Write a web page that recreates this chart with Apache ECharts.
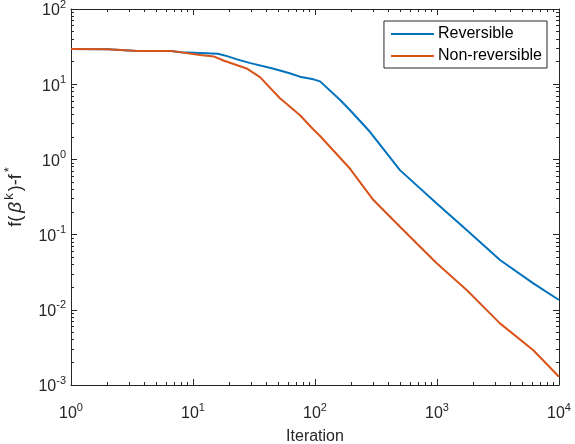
<!DOCTYPE html>
<html>
<head>
<meta charset="utf-8">
<script src="https://cdn.jsdelivr.net/npm/echarts@6/dist/echarts.min.js"></script>
<style>html,body{margin:0;padding:0;background:#fff}#c{width:575px;height:444px}</style>
</head>
<body>
<div id="c"></div>
<script>
var seriesNames = ['Reversible', 'Non-reversible'];
var reversibleX = [1, 2, 3.5, 6.6, 8, 11.4, 16, 19, 23, 29, 45, 62, 75, 97, 110, 160, 194, 282, 497, 995, 1750, 3283, 6160, 10000];
var reversibleY = [29.4, 29.2, 27.6, 27.6, 26.6, 26, 25.4, 23.6, 21.4, 19.2, 16.2, 14, 12.6, 11.6, 10.9, 6.2, 4.5, 2.33, 0.72, 0.26, 0.115, 0.046, 0.0225, 0.0135];
var nonRevX = [1, 2, 3.5, 6.6, 8, 11.4, 14.9, 18, 27.5, 35.4, 51.6, 75, 97, 110, 194, 300, 497, 995, 1750, 3283, 6160, 10000];
var nonRevY = [29.4, 29.2, 27.6, 27.6, 26.5, 24.4, 23.3, 20.5, 16.2, 12.4, 6.5, 3.9, 2.5, 2.05, 0.75, 0.29, 0.127, 0.0415, 0.0183, 0.0066, 0.0029, 0.00129];
var xMajorTicks = [1, 10, 100, 1000, 10000];
var yMajorTicks = [0.001, 0.01, 0.1, 1, 10, 100];
function minorTicks(lo, hi) {
  var out = [];
  for (var d = lo; d < hi; d *= 10) {
    for (var k = 2; k <= 9; k++) out.push(+(d * k).toPrecision(6));
  }
  return out;
}
var xMinorTicks = minorTicks(1, 10000);
var yMinorTicks = minorTicks(0.001, 100);

var axisColor = '#262626';
var font = 'Liberation Sans, Arial, Helvetica, sans-serif';
function pow10Label(v) {
  var e = Math.round(Math.log10(v));
  return '{b|10}{s|' + e + '}';
}
var richLbl = {
  b: { fontSize: 16, fontFamily: font, color: axisColor, verticalAlign: 'bottom', lineHeight: 20 },
  s: { fontSize: 11, fontFamily: font, color: axisColor, verticalAlign: 'top', lineHeight: 20, padding: [0, 0, 9, 0] }
};
function pairs(xs, ys) { return xs.map(function (x, i) { return [x, ys[i]]; }); }

function mkAxis(dir, pos, major, isMinor, minV, maxV, withLabels) {
  var ax = {
    type: 'log', logBase: 10, min: minV, max: maxV, position: pos,
    splitLine: { show: false },
    axisLine: { show: !isMinor, onZero: false, lineStyle: { color: axisColor, width: 1 } },
    axisTick: { show: true, inside: true, length: isMinor ? 3 : 6, customValues: major, lineStyle: { color: axisColor, width: 1 } },
    minorTick: { show: false },
    axisLabel: { show: false }
  };
  if (withLabels) {
    ax.axisLabel = {
      show: true, customValues: major, formatter: pow10Label, rich: richLbl,
      margin: dir === 'x' ? 17 : 5
    };
  }
  return ax;
}

var chart = echarts.init(document.getElementById('c'), null, { renderer: 'canvas' });
var xAxes = [
  mkAxis('x', 'bottom', xMajorTicks, false, 1, 10000, true),
  mkAxis('x', 'bottom', xMinorTicks, true, 1, 10000, false),
  mkAxis('x', 'top', xMajorTicks, false, 1, 10000, false),
  mkAxis('x', 'top', xMinorTicks, true, 1, 10000, false)
];
xAxes[0].name = 'Iteration';
xAxes[0].nameLocation = 'middle';
xAxes[0].nameGap = 44;
xAxes[0].nameTextStyle = { fontSize: 16, fontFamily: font, color: axisColor };
var yAxes = [
  mkAxis('y', 'left', yMajorTicks, false, 0.001, 100, true),
  mkAxis('y', 'left', yMinorTicks, true, 0.001, 100, false),
  mkAxis('y', 'right', yMajorTicks, false, 0.001, 100, false),
  mkAxis('y', 'right', yMinorTicks, true, 0.001, 100, false)
];
yAxes[0].name = '{n|f(}{g|β}{s|k}{n|)-f}{s|*}';
yAxes[0].nameLocation = 'middle';
yAxes[0].nameGap = 46;
yAxes[0].nameTextStyle = {
  rich: {
    n: { fontSize: 18, fontFamily: font, color: axisColor, verticalAlign: 'bottom', lineHeight: 22, padding: [0, 1, 0, 1] },
    g: { fontSize: 19, fontFamily: font, fontStyle: 'italic', color: axisColor, verticalAlign: 'bottom', lineHeight: 22, padding: [0, 1, 0, 2] },
    s: { fontSize: 13, fontFamily: font, color: axisColor, verticalAlign: 'top', lineHeight: 22, padding: [0, 1, 10, 1] }
  }
};

chart.setOption({
  animation: false,
  grid: { left: 71, right: 16, top: 9, bottom: 59, containLabel: false, outerBoundsMode: 'none' },
  legend: {
    orient: 'vertical', right: 28, top: 21,
    data: seriesNames,
    icon: 'rect',
    backgroundColor: '#fff', borderColor: axisColor, borderWidth: 1,
    padding: [4, 5, 3, 7], itemGap: 4, itemWidth: 43, itemHeight: 2,
    textStyle: { fontSize: 16, lineHeight: 18, fontFamily: font, color: '#000', padding: [0, 0, 0, -1] }
  },
  xAxis: xAxes,
  yAxis: yAxes,
  series: [
    { name: seriesNames[0], type: 'line', xAxisIndex: 0, yAxisIndex: 0, symbol: 'none', smooth: false,
      lineStyle: { color: '#0072BD', width: 2 }, itemStyle: { color: '#0072BD' }, data: pairs(reversibleX, reversibleY) },
    { name: seriesNames[1], type: 'line', xAxisIndex: 0, yAxisIndex: 0, symbol: 'none', smooth: false,
      lineStyle: { color: '#D95319', width: 2 }, itemStyle: { color: '#D95319' }, data: pairs(nonRevX, nonRevY) }
  ]
});
</script>
</body>
</html>
